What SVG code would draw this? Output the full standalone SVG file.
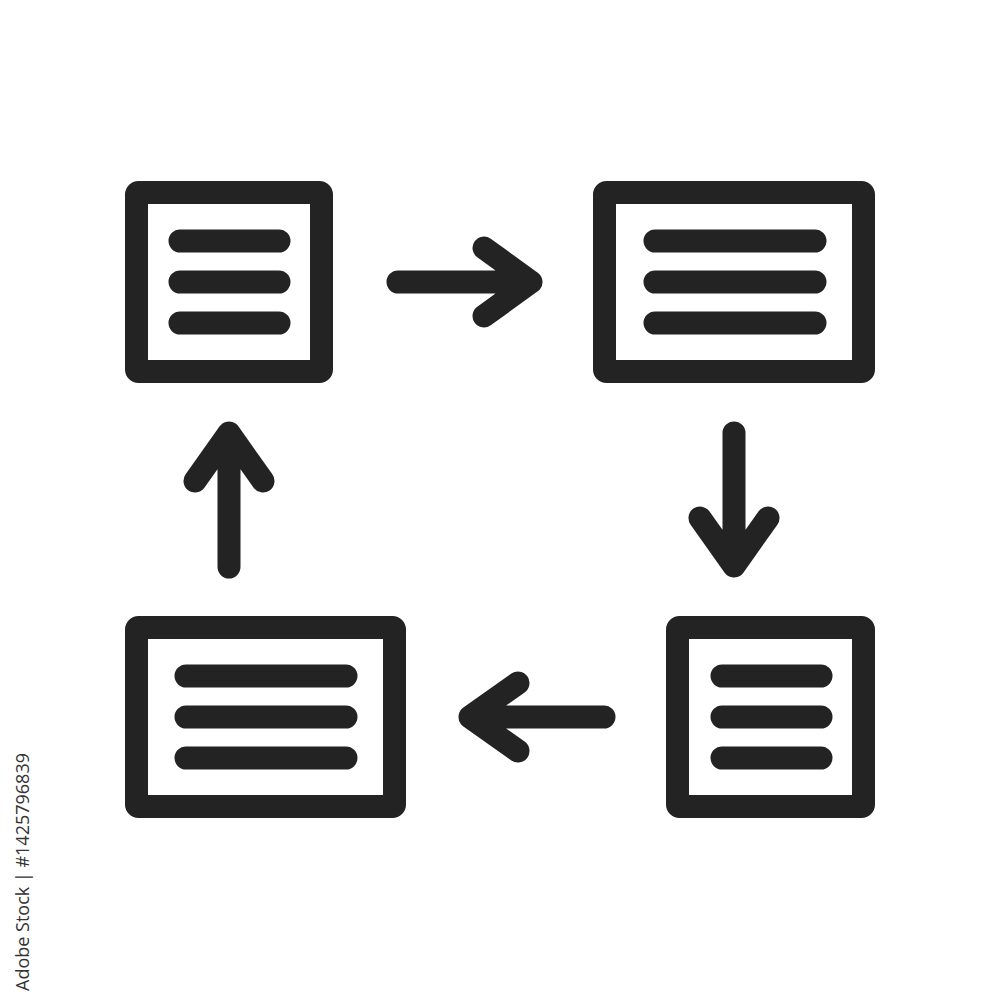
<svg xmlns="http://www.w3.org/2000/svg" width="1000" height="1000" viewBox="0 0 1000 1000">
<style>
.frame{fill:none;stroke:#232323;stroke-width:23;stroke-linejoin:round}
.line{fill:none;stroke:#232323;stroke-width:23;stroke-linecap:round}
.arrow{fill:none;stroke:#232323;stroke-width:23;stroke-linecap:round;stroke-linejoin:round}
.id{font-family:"Open Sans","Noto Sans",sans-serif;font-size:18px;fill:#333333}
</style>
<rect width="1000" height="1000" fill="#ffffff"/>
<g id="node-top-left">
<rect class="frame" x="136.5" y="192.5" width="185" height="179" rx="2"/>
<path class="line" d="M180 241H279M180 282H279M180 323H279"/>
</g>
<g id="node-top-right">
<rect class="frame" x="604.5" y="192.5" width="259" height="179" rx="2"/>
<path class="line" d="M655 241H815M655 282H815M655 323H815"/>
</g>
<g id="node-bottom-right">
<rect class="frame" x="677.5" y="627.5" width="186" height="179" rx="2"/>
<path class="line" d="M722 676H821M722 717H821M722 758H821"/>
</g>
<g id="node-bottom-left">
<rect class="frame" x="136.5" y="627.5" width="258" height="179" rx="2"/>
<path class="line" d="M186 676H346M186 717H346M186 758H346"/>
</g>
<g id="connectors">
<path class="arrow" d="M398 282H530M484 248L531 282L484 316"/>
<path class="arrow" d="M734 433V565M700 518L734 566L768 518"/>
<path class="arrow" d="M604 717H471M518 683L470 717L518 751"/>
<path class="arrow" d="M229 567V434M195 481L229 433L263 481"/>
</g>
<text class="id" text-anchor="end" transform="translate(29,753) rotate(-90)">Adobe Stock | #1425796839</text>
</svg>
